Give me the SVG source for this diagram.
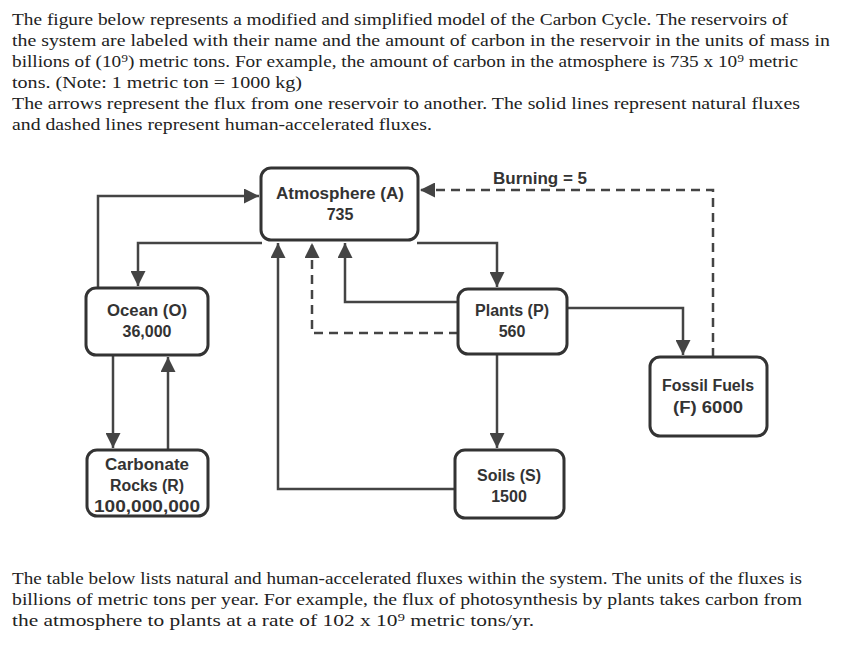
<svg xmlns="http://www.w3.org/2000/svg" width="846" height="647" viewBox="0 0 846 647">
<style>
.p{font-family:"Liberation Serif",serif;font-size:17.5px;fill:#222}
.n rect{fill:#fff;stroke:#333;stroke-width:3}
.n text,.lb{font-family:"Liberation Sans Narrow","Liberation Sans",sans-serif;font-weight:bold;font-size:16px;fill:#333;text-anchor:middle}
.c path{fill:none;stroke:#444;stroke-width:2.5}
.c .d{stroke-dasharray:9,6}
</style>
<defs><marker id="a" viewBox="0 0 10 10" refX="10" refY="5" markerWidth="6" markerHeight="6" orient="auto" markerUnits="strokeWidth"><path d="M0,0L10,5L0,10z" fill="#444"/></marker></defs>
<rect width="846" height="647" fill="#fff"/>
<g id="intro">
<text class="p" x="12" y="25" textLength="776" lengthAdjust="spacingAndGlyphs">The figure below represents a modified and simplified model of the Carbon Cycle.  The reservoirs of</text>
<text class="p" x="12" y="46" textLength="818" lengthAdjust="spacingAndGlyphs">the system are labeled with their name and the amount of carbon in the reservoir in the units of mass in</text>
<text class="p" x="12" y="67" textLength="786" lengthAdjust="spacingAndGlyphs">billions of (10⁹) metric tons.  For example, the amount of carbon in the atmosphere is 735 x 10⁹ metric</text>
<text class="p" x="12" y="88" textLength="290" lengthAdjust="spacingAndGlyphs">tons.  (Note:  1 metric ton = 1000 kg)</text>
<text class="p" x="12" y="109" textLength="788" lengthAdjust="spacingAndGlyphs">The arrows represent the flux from one reservoir to another.  The solid lines represent natural fluxes</text>
<text class="p" x="12" y="130" textLength="420" lengthAdjust="spacingAndGlyphs">and dashed lines represent human-accelerated fluxes.</text>
</g>
<g class="c">
<path d="M98,288V196H259" marker-end="url(#a)"/>
<path d="M262,243H138V286" marker-end="url(#a)"/>
<path d="M417,243H497V287" marker-end="url(#a)"/>
<path d="M458,302H345V243" marker-end="url(#a)"/>
<path class="d" d="M458,333H312V243" marker-end="url(#a)"/>
<path d="M455,489H278V243" marker-end="url(#a)"/>
<path d="M497,354V448" marker-end="url(#a)"/>
<path d="M567,308H683V355" marker-end="url(#a)"/>
<path class="d" d="M713,357V190H420" marker-end="url(#a)"/>
<path d="M113,356V448" marker-end="url(#a)"/>
<path d="M168,450V357" marker-end="url(#a)"/>
<text class="lb" x="540" y="184" textLength="94" lengthAdjust="spacingAndGlyphs">Burning = 5</text>
</g>
<g id="atm" class="n"><rect x="261" y="168" width="157" height="72" rx="10"/><text x="340" y="199" textLength="128" lengthAdjust="spacingAndGlyphs">Atmosphere (A)</text><text x="340" y="220">735</text></g>
<g id="ocean" class="n"><rect x="86" y="288" width="122" height="67" rx="10"/><text x="147" y="316" textLength="80" lengthAdjust="spacingAndGlyphs">Ocean (O)</text><text x="147" y="337">36,000</text></g>
<g id="rocks" class="n"><rect x="87" y="450" width="121" height="66" rx="10"/><text x="147" y="470" textLength="84" lengthAdjust="spacingAndGlyphs">Carbonate</text><text x="147" y="491" textLength="74" lengthAdjust="spacingAndGlyphs">Rocks (R)</text><text x="147" y="512" textLength="106" lengthAdjust="spacingAndGlyphs">100,000,000</text></g>
<g id="plants" class="n"><rect x="458" y="289" width="109" height="65" rx="10"/><text x="512" y="316" textLength="74" lengthAdjust="spacingAndGlyphs">Plants (P)</text><text x="512" y="337">560</text></g>
<g id="soils" class="n"><rect x="455" y="450" width="109" height="68" rx="10"/><text x="509" y="481" textLength="64" lengthAdjust="spacingAndGlyphs">Soils (S)</text><text x="509" y="502">1500</text></g>
<g id="fossil" class="n"><rect x="650" y="357" width="117" height="79" rx="10"/><text x="708" y="391" textLength="92" lengthAdjust="spacingAndGlyphs">Fossil Fuels</text><text x="708" y="413" textLength="70" lengthAdjust="spacingAndGlyphs">(F)  6000</text></g>
<g id="outro">
<text class="p" x="12" y="584" textLength="790" lengthAdjust="spacingAndGlyphs">The table below lists natural and human-accelerated fluxes within the system.  The units of the fluxes is</text>
<text class="p" x="12" y="605" textLength="790" lengthAdjust="spacingAndGlyphs">billions of metric tons per year.  For example, the flux of photosynthesis by plants takes carbon from</text>
<text class="p" x="12" y="626" textLength="522" lengthAdjust="spacingAndGlyphs">the atmosphere to plants at a rate of 102 x 10⁹ metric tons/yr.</text>
</g>
</svg>
